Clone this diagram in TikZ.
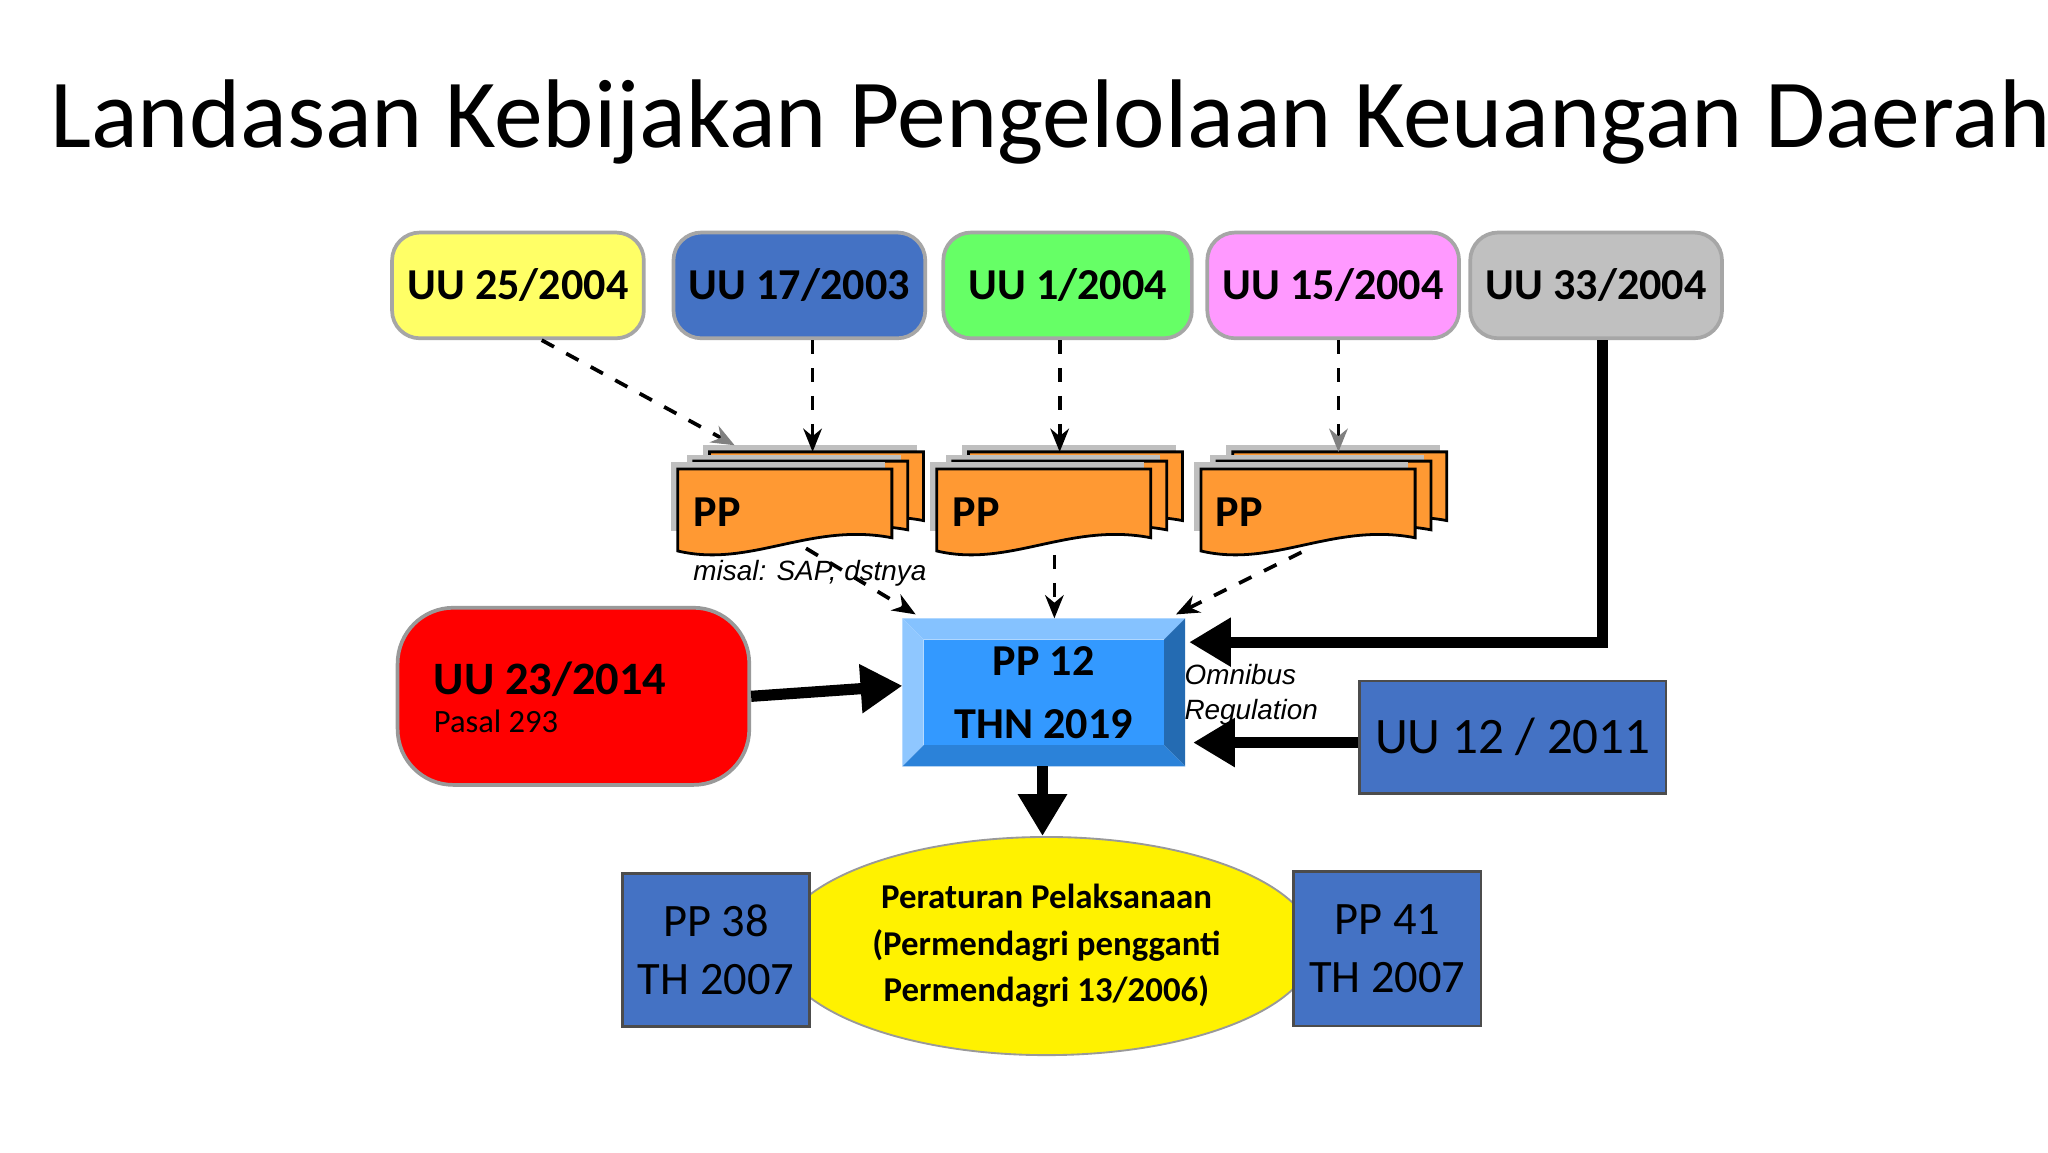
\documentclass[tikz,border=0pt]{standalone}
\usepackage{fontspec}
\setmainfont{Carlito}
\newfontfamily\arialf{Liberation Sans}
\usetikzlibrary{arrows.meta,shapes.geometric}
\definecolor{uyel}{HTML}{FFFF66}
\definecolor{ublue}{HTML}{4472C4}
\definecolor{ugreen}{HTML}{66FF66}
\definecolor{upink}{HTML}{FF99FF}
\definecolor{ugray}{HTML}{C0C0C0}
\definecolor{porange}{HTML}{FF9933}
\definecolor{cblue}{HTML}{3399FF}
\newcommand\mydoclayer[2]{%
  \fill[gray!50] (#1-5,#2-5) -- ++(162,0) -- ++(0,52) -- ++(-162,0) -- cycle;
  \filldraw[fill=porange,draw=black,line width=0.6pt] (#1,#2) -- ++(162,0) -- ++(0,52)
    .. controls (#1+100,#2+40) and (#1+55,#2+75) .. (#1,#2+62) -- cycle;}
\newcommand\mydoc[2]{%
  \mydoclayer{#1+24}{#2-13}\mydoclayer{#1+12}{#2-6}\mydoclayer{#1}{#2}}
\begin{document}
\begin{tikzpicture}[x=0.01cm,y=-0.01cm,
  uubox/.style={draw=black!35,rounded corners=6pt,minimum width=1.88cm,minimum height=0.8cm,font=\fontsize{9.5}{11}\selectfont\bfseries,line width=0.8pt},
  sqbox/.style={draw=black!70,fill=ublue,line width=0.6pt,font=\fontsize{10}{12.5}\selectfont,align=center},
  dsh/.style={dashed,line width=0.8pt,-{Stealth[length=5pt,width=4pt]}},
  gdsh/.style={dashed,line width=0.8pt,-{Stealth[length=5pt,width=4pt,color=gray]}},
  thick arr/.style={line width=2.4pt,-{Triangle[length=9pt,width=10pt]}},
  lbl/.style={font=\arialf\itshape\fontsize{6}{7.5}\selectfont,align=left}]
\useasboundingbox[fill=white] (0,0) rectangle (1550,872);
\node (title) at (795,92) {\fontsize{21}{25}\selectfont Landasan Kebijakan Pengelolaan Keuangan Daerah};
\node[uubox,fill=uyel] (u25) at (392,216) {UU 25/2004};
\node[uubox,fill=ublue] (u17) at (605,216) {UU 17/2003};
\node[uubox,fill=ugreen] (u1) at (808,216) {UU 1/2004};
\node[uubox,fill=upink] (u15) at (1009,216) {UU 15/2004};
\node[uubox,fill=ugray] (u33) at (1208,216) {UU 33/2004};
% PP documents
\mydoc{513}{355}\mydoc{709}{355}\mydoc{909}{355}
\node[font=\fontsize{9.5}{11}\selectfont\bfseries] (pp1) at (543,388) {PP};
\node[font=\fontsize{9.5}{11}\selectfont\bfseries] (pp2) at (739,388) {PP};
\node[font=\fontsize{9.5}{11}\selectfont\bfseries] (pp3) at (938,388) {PP};
\coordinate (d1t) at (556,337);
\coordinate (d2t) at (615,342);
\coordinate (d3t) at (802,342);
\coordinate (d4t) at (1013,342);
\coordinate (d1b) at (610,415);
\coordinate (d2b) at (798,420);
\coordinate (d3b) at (985,418);
% central beveled box
\fill[cblue!60!white] (683,468) -- (897,468) -- (881,484) -- (699,484) -- cycle;
\fill[cblue!55!white] (683,468) -- (699,484) -- (699,564) -- (683,580) -- cycle;
\fill[cblue!70!black] (897,468) -- (897,580) -- (881,564) -- (881,484) -- cycle;
\fill[cblue!85!black] (683,580) -- (699,564) -- (881,564) -- (897,580) -- cycle;
\fill[cblue] (699,484) rectangle (881,564);
\node[minimum width=2.14cm,minimum height=1.12cm,align=center,font=\fontsize{9.5}{13.5}\selectfont\bfseries] (pp12) at (790,524) {PP 12\\THN 2019};
% red box
\node[draw=black!40,fill=red,rounded corners=12pt,minimum width=2.66cm,minimum height=1.34cm,line width=0.8pt] (u23) at (434,527) {};
\node[anchor=west,font=\fontsize{10}{12}\selectfont\bfseries] (u23t) at (316,514) {UU 23/2014};
\node[anchor=west,font=\fontsize{7}{8}\selectfont] (u23p) at (316,546) {Pasal 293};
\node[sqbox,minimum width=1.94cm,minimum height=0.85cm,font=\fontsize{11}{13}\selectfont] (u12) at (1145,558) {UU 12 / 2011};
\node[lbl] (omni) at (947,526) {Omnibus\\Regulation};
\node[draw=black!40,fill=yellow,ellipse,minimum width=3.36cm,minimum height=1.36cm,align=center,font=\fontsize{7.5}{10}\selectfont\bfseries] (pel) at (792,716) {Peraturan Pelaksanaan\\(Permendagri pengganti\\Permendagri 13/2006)};
\node[sqbox,minimum width=1.18cm,minimum height=1.16cm] (pp38) at (542,719) {PP 38\\TH 2007};
\node[sqbox,minimum width=1.17cm,minimum height=1.17cm] (pp41) at (1050,718) {PP 41\\TH 2007};
\node[lbl,font=\arialf\itshape\fontsize{6}{7}\selectfont] (misal) at (613,434) {misal: SAP, dstnya};
% connectors
\draw[gdsh] (u25.south) ++(18,0) -- (d1t);
\draw[dsh] (u17.south -| d2t) -- (d2t);
\draw[dsh] (u1.south -| d3t) -- (d3t);
\draw[gdsh] (u15.south -| d4t) -- (d4t);
\draw[dsh] (d1b) -- (693,465);
\draw[dsh] (d2b) -- (798,468);
\draw[dsh] (d3b) -- (890,465);
\draw[line width=2.4pt,-{Triangle[length=9pt,width=10pt]}] (u33.south -| 1213,0) -- (1213,486) -- (900,486);
\draw[thick arr] (u23.east) -- (683,519);
\draw[thick arr] (u12.west |- 0,562) -- (903,562);
\draw[thick arr] (789,580) -- (pel.north -| 789,0);
\end{tikzpicture}
\end{document}
